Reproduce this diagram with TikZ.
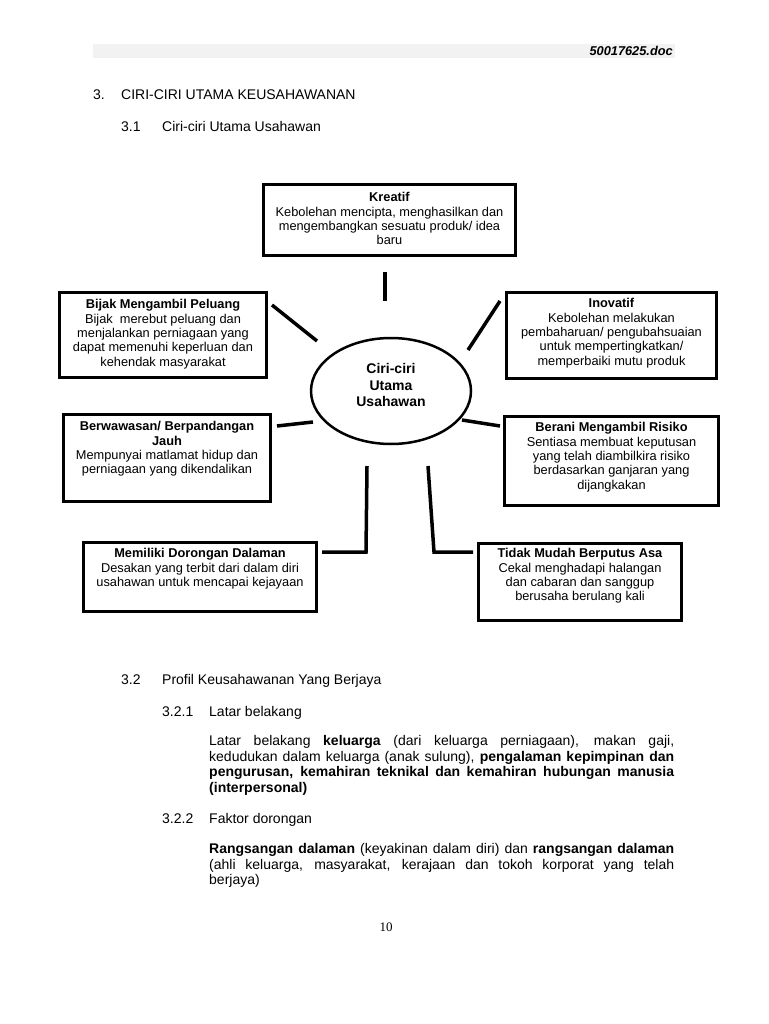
\documentclass[tikz,border=0pt]{standalone}
\usepackage{fontspec}
\setmainfont{Liberation Sans}
\newfontfamily\serifnum{Liberation Serif}
\usetikzlibrary{shapes.geometric}
\tikzset{
  boxframe/.style={draw=black, line width=3pt, inner sep=0pt},
  boxtext/.style={anchor=north, inner sep=0pt, align=center, font=\fontsize{12.8}{14.3}\selectfont},
  conn/.style={draw=black, line width=3.5pt},
  body/.style={anchor=base west, inner sep=0pt, font=\fontsize{14}{16}\selectfont},
  centre/.style={draw=black, line width=2.5pt, ellipse, minimum width=160pt, minimum height=106pt, inner sep=0pt}
}
\begin{document}
\begin{tikzpicture}[x=1pt, y=-1pt]
\useasboundingbox (0,0) rectangle (768,1024);
% header
\fill[black!5] (93,44) rectangle (675,58);
\node[anchor=base east, inner sep=0pt, font=\fontsize{12.8}{14}\selectfont\bfseries\itshape] (hdr) at (673,56) {50017625.doc};
\node[body] (h3n) at (93,100) {3.};
\node[body] (h3t) at (121,100) {CIRI-CIRI UTAMA KEUSAHAWANAN};
\node[body] (h31n) at (121,132) {3.1};
\node[body] (h31t) at (162,132) {Ciri-ciri Utama Usahawan};
% boxes
\path[boxframe] (263.5,184.5) rectangle (515.5,255.5);
\path[boxframe] (59.5,292.5) rectangle (266.5,377.5);
\path[boxframe] (506.5,292.5) rectangle (716.5,378.5);
\path[boxframe] (63.5,414.5) rectangle (270.5,501.5);
\path[boxframe] (504.5,416.5) rectangle (718.5,505.5);
\path[boxframe] (83.5,542.5) rectangle (316.5,611.5);
\path[boxframe] (478.5,543.5) rectangle (681.5,620.5);
\coordinate (kreT) at (389.5,192.5);
\coordinate (bijT) at (163,299.5);
\coordinate (inoT) at (611.5,298.5);
\coordinate (wavT) at (167,421.5);
\coordinate (risT) at (611.5,422.5);
\coordinate (dorT) at (200,548.5);
\coordinate (asaT) at (580,548.5);
\node[boxtext] (kre) at (kreT) {\textbf{Kreatif}\\Kebolehan mencipta, menghasilkan dan\\mengembangkan sesuatu produk/ idea\\baru};
\node[boxtext] (bij) at (bijT) {\textbf{Bijak Mengambil Peluang}\\Bijak\ \ merebut peluang dan\\menjalankan perniagaan yang\\dapat memenuhi keperluan dan\\kehendak masyarakat};
\node[boxtext] (ino) at (inoT) {\textbf{Inovatif}\\Kebolehan melakukan\\pembaharuan/ pengubahsuaian\\untuk mempertingkatkan/\\memperbaiki mutu produk};
\node[boxtext] (wav) at (wavT) {\textbf{Berwawasan/ Berpandangan}\\\textbf{Jauh}\\Mempunyai matlamat hidup dan\\perniagaan yang dikendalikan};
\node[boxtext] (ris) at (risT) {\textbf{Berani Mengambil Risiko}\\Sentiasa membuat keputusan\\yang telah diambilkira risiko\\berdasarkan ganjaran yang\\dijangkakan};
\node[boxtext] (dor) at (dorT) {\textbf{Memiliki Dorongan Dalaman}\\Desakan yang terbit dari dalam diri\\usahawan untuk mencapai kejayaan};
\node[boxtext] (asa) at (asaT) {\textbf{Tidak Mudah Berputus Asa}\\Cekal menghadapi halangan\\dan cabaran dan sanggup\\berusaha berulang kali};
% centre ellipse
\node[centre] (ell) at (391,391) {};
\node[align=center, inner sep=0pt, font=\fontsize{14}{16.5}\selectfont\bfseries] (ellt) at (391,385) {Ciri-ciri\\Utama\\Usahawan};
% connectors
\coordinate (c1a) at (385,272); \coordinate (c1b) at (385,301);
\coordinate (c2a) at (272,305); \coordinate (c2b) at (317,341);
\coordinate (c3a) at (500,301); \coordinate (c3b) at (468,350);
\coordinate (c4a) at (277,426); \coordinate (c4b) at (313,422);
\coordinate (c5a) at (462,420); \coordinate (c5b) at (500,426);
\coordinate (c6a) at (322,552); \coordinate (c6m) at (366,552); \coordinate (c6b) at (367,466);
\coordinate (c7a) at (473,552); \coordinate (c7m) at (434,552); \coordinate (c7b) at (428,466);
\draw[conn] (c1a) -- (c1b);
\draw[conn] (c2a) -- (c2b);
\draw[conn] (c3a) -- (c3b);
\draw[conn] (c4a) -- (c4b);
\draw[conn] (c5a) -- (c5b);
\draw[conn, line join=miter] (c6a) -- (c6m) -- (c6b);
\draw[conn, line join=miter] (c7a) -- (c7m) -- (c7b);
% section 3.2
\node[body] (h32n) at (121,684) {3.2};
\node[body] (h32t) at (162,684) {Profil Keusahawanan Yang Berjaya};
\node[body] (h321n) at (162,716) {3.2.1};
\node[body] (h321t) at (209,716) {Latar belakang};
\node[body] (p1a) at (209,745.5) {\makebox[465pt][s]{Latar belakang \textbf{keluarga} (dari keluarga perniagaan), makan gaji,}};
\node[body] (p1b) at (209,761) {\makebox[465pt][s]{kedudukan dalam keluarga (anak sulung), \textbf{pengalaman kepimpinan dan}}};
\node[body] (p1c) at (209,776.5) {\makebox[465pt][s]{\textbf{pengurusan, kemahiran teknikal dan kemahiran hubungan manusia}}};
\node[body] (p1d) at (209,792) {\textbf{(interpersonal)}};
\node[body] (h322n) at (162,823) {3.2.2};
\node[body] (h322t) at (209,823) {Faktor dorongan};
\node[body] (p2a) at (209,853.5) {\makebox[465pt][s]{\textbf{Rangsangan dalaman} (keyakinan dalam diri) dan \textbf{rangsangan dalaman}}};
\node[body] (p2b) at (209,869) {\makebox[465pt][s]{(ahli keluarga, masyarakat, kerajaan dan tokoh korporat yang telah}};
\node[body] (p2c) at (209,884.5) {berjaya)};
\node[anchor=base, inner sep=0pt, font=\fontsize{13}{15}\serifnum] (pg) at (386,931) {10};
\end{tikzpicture}
\end{document}
